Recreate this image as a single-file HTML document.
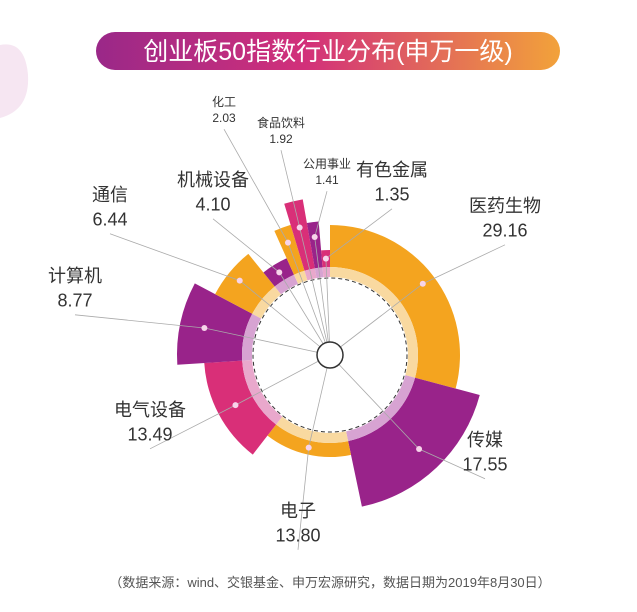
<!DOCTYPE html>
<html><head><meta charset="utf-8">
<style>
body{margin:0;background:#fff;width:637px;height:607px;overflow:hidden;font-family:"Liberation Sans","Noto Sans CJK SC",sans-serif;}
svg text{font-family:"Liberation Sans","Noto Sans CJK SC",sans-serif;}
</style></head>
<body>
<svg id="chart" width="637" height="607" viewBox="0 0 637 607" xmlns="http://www.w3.org/2000/svg">
<defs>
<linearGradient id="tg" x1="0" x2="1" y1="0" y2="0">
<stop offset="0" stop-color="#9a2888"/><stop offset="0.45" stop-color="#d2307a"/><stop offset="1" stop-color="#f2a23a"/>
</linearGradient>
</defs>
<path d="M0,45 Q25,40 28,75 Q30,110 0,118 Z" fill="#f6e6f2"/>
<rect x="96" y="32" width="464" height="38" rx="19" fill="url(#tg)"/>
<text x="328" y="60" text-anchor="middle" font-size="25" fill="#fff">创业板50指数行业分布(申万一级)</text>
<g id="marks"></g>
<text x="330" y="587" text-anchor="middle" font-size="13" fill="#555">（数据来源：wind、交银基金、申万宏源研究，数据日期为2019年8月30日）</text>
</svg>
<script>
const categories=["医药生物","传媒","电子","电气设备","计算机","通信","机械设备","化工","食品饮料","公用事业","有色金属"];
const values=[29.16,17.55,13.80,13.49,8.77,6.44,4.10,2.03,1.92,1.41,1.35];
const outerRadii=[130,155,102,126,153,130,106,136,158,134,105];
const colorKeys=["o","p","o","k","p","o","p","o","k","p","k"];
const valueLabels=["29.16","17.55","13.80","13.49","8.77","6.44","4.10","2.03","1.92","1.41","1.35"];
const labelPos=[[505,212,18],[485,446,18],[298,517,18],[150,416,18],[75,282,18],[110,201,18],[213,186,18],[224,106,12],[281,127,12],[327,168,12],[392,176,18]];
const pal={o:["#f4a41f","#f9d9a0"],p:["#99238a","#d7a3d2"],k:["#d92f78","#e9a8cc"]};
const cx=330,cy=355,r0=88,rRing=78,rHole=13;
const NS="http://www.w3.org/2000/svg";
const g=document.getElementById('marks');
const total=values.reduce((a,b)=>a+b,0);
function ang(v){return v/total*2*Math.PI;}
function pt(a,r){return [cx+r*Math.sin(a),cy-r*Math.cos(a)];}
function arcPath(a1,a2,ri,ro){
 const l=(a2-a1)>Math.PI?1:0;
 const p1=pt(a1,ro),p2=pt(a2,ro),p3=pt(a2,ri),p4=pt(a1,ri);
 return `M${p1} A${ro},${ro} 0 ${l} 1 ${p2} L${p3} A${ri},${ri} 0 ${l} 0 ${p4}Z`;
}
function mk(tag,attrs){const e=document.createElementNS(NS,tag);for(const k in attrs)e.setAttribute(k,attrs[k]);g.appendChild(e);return e;}
let a=0;
const mids=[];
values.forEach((v,i)=>{
 const a2=a+ang(v);
 const c=pal[colorKeys[i]];
 const s=mk('path',{d:arcPath(a,a2,r0,outerRadii[i]),fill:c[0]});
 
 
 const rg=mk('path',{d:arcPath(a,a2,rRing,r0),fill:c[1]});
 
 
 mids.push([(a+a2)/2,i]);
 a=a2;
});
mk('circle',{cx:cx,cy:cy,r:rRing-1,fill:'none',stroke:'#333','stroke-dasharray':'4 3','stroke-width':1});
values.forEach((v,i)=>{
 const m=mids[i][0];
 const rm=(r0+outerRadii[i])/2+ (outerRadii[i]-r0>40?8:0);
 const d=pt(m,rm);
 const lp=labelPos[i];
 const lx=lp[0], ly=lp[1]+lp[2]*1.6+4;
 const ln=mk('polyline',{points:`${cx},${cy} ${d} ${lx},${ly}`,fill:'none',stroke:'#aaa','stroke-width':0.8});
 
 
 const dot=mk('circle',{cx:d[0],cy:d[1],r:3,fill:'#f7d4ea'});
 
 
 const t1=mk('text',{x:lp[0],y:lp[1],'text-anchor':'middle','font-size':lp[2],fill:'#333'});
 t1.textContent=categories[i];
 
 
 const t2=mk('text',{x:lp[0],y:lp[1]+lp[2]*1.35,'text-anchor':'middle','font-size':lp[2],fill:'#333'});
 t2.textContent=valueLabels[i];
 
 
});
const hole=mk('circle',{cx:cx,cy:cy,r:rHole,fill:'#fff',stroke:'#333','stroke-width':1.5});


</script>
</body></html>
